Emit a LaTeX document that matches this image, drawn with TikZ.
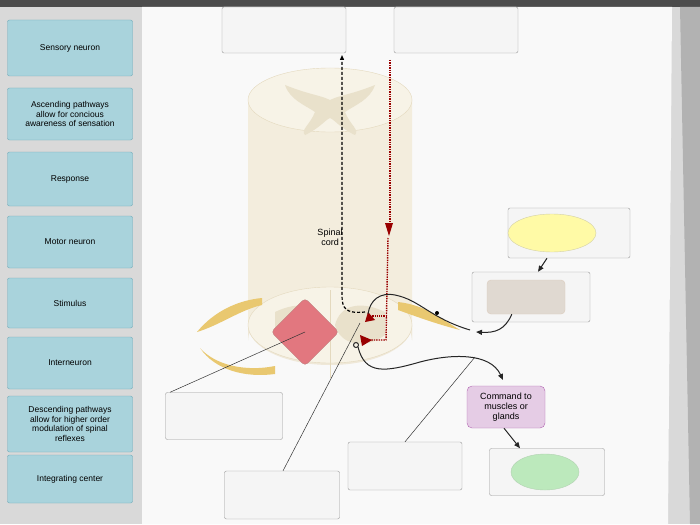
\documentclass[tikz,border=0pt]{standalone}
\usepackage{fontspec}
\setmainfont{Liberation Sans}
\usetikzlibrary{arrows.meta}
\definecolor{lbl}{HTML}{A9D3DC}
\definecolor{lbd}{HTML}{6FA9B8}
\definecolor{cream}{HTML}{F3EDDD}
\definecolor{creamd}{HTML}{E4D9BE}
\definecolor{nerve}{HTML}{E9C870}
\definecolor{dia}{HTML}{E2777F}
\begin{document}
\begin{tikzpicture}[x=1pt,y=-1pt,
  lab/.style={draw=lbd,fill=lbl,rounded corners=2pt,minimum width=125pt,align=center,font=\fontsize{8.5}{9.5}\selectfont,inner sep=1pt},
  ebox/.style={draw=gray!80,fill=gray!8,rounded corners=2pt,minimum width=#1,minimum height=46pt,inner sep=0pt},
  lead/.style={draw=black!80,line width=0.5pt},
  ar/.style={draw=black!85,line width=1pt,-{Triangle[length=6pt,width=5pt]}}]
\useasboundingbox (0,0) rectangle (700,524);
\fill[gray!30] (0,0) rectangle (700,524);
\fill[black!70] (0,0) rectangle (700,7);
\fill[gray!5] (142,7) -- (672,7) -- (668,524) -- (142,524) -- cycle;
\fill[gray!60] (680,7) -- (700,7) -- (700,524) -- (690,524) -- cycle;
% left labels
\node[lab,minimum height=56pt] (l1) at (70,48) {Sensory neuron};
\node[lab,minimum height=52pt] (l2) at (70,114) {Ascending pathways\\allow for concious\\awareness of sensation};
\node[lab,minimum height=54pt] (l3) at (70,179) {Response};
\node[lab,minimum height=52pt] (l4) at (70,242) {Motor neuron};
\node[lab,minimum height=50pt] (l5) at (70,303) {Stimulus};
\node[lab,minimum height=52pt] (l6) at (70,363) {Interneuron};
\node[lab,minimum height=56pt] (l7) at (70,424) {Descending pathways\\allow for higher order\\modulation of spinal\\reflexes};
\node[lab,minimum height=48pt] (l8) at (70,479) {Integrating center};
% spinal cord
\fill[cream] (248,100) -- (248,340) arc[start angle=180,end angle=360,x radius=82,y radius=40] -- (412,100) -- cycle;
\fill[creamd!60] (248,325) -- (248,340) arc[start angle=180,end angle=360,x radius=82,y radius=40] -- (412,325) arc[start angle=0,end angle=180,x radius=82,y radius=40];
\fill[cream!70!white,draw=creamd] (330,325) ellipse[x radius=82,y radius=38];
\fill[cream!70!white,draw=creamd] (330,100) ellipse[x radius=82,y radius=32];
\fill[creamd!80] (285,85) .. controls (310,95) and (320,95) .. (330,100) .. controls (340,95) and (350,95) .. (375,85) .. controls (370,100) and (355,105) .. (345,112) .. controls (350,125) and (360,130) .. (355,135) .. controls (340,128) and (335,120) .. (330,118) .. controls (325,120) and (320,128) .. (305,135) .. controls (300,130) and (310,125) .. (315,112) .. controls (305,105) and (290,100) .. (285,85);
\fill[creamd!80] (275,312) .. controls (300,300) and (320,305) .. (325,325) .. controls (320,345) and (295,350) .. (275,335) -- cycle;
\fill[creamd!80] (385,312) .. controls (360,300) and (340,305) .. (335,325) .. controls (340,345) and (365,350) .. (385,335) -- cycle;
\draw[creamd] (330,290) -- (330,378);
% nerves
\fill[nerve] (197,332) .. controls (215,310) and (240,300) .. (262,298) -- (262,305) .. controls (240,310) and (220,325) .. (197,332);
\fill[nerve] (200,348) .. controls (215,365) and (245,372) .. (275,366) -- (275,374) .. controls (245,378) and (215,370) .. (200,348);
\fill[nerve] (398,302) .. controls (425,305) and (440,318) .. (460,330) .. controls (440,325) and (420,318) .. (398,310);
\node[draw=red!50!black!50,fill=dia,rounded corners=4pt,minimum size=48pt,rotate=45] (dia) at (305,332) {};
\node[font=\fontsize{9}{10}\selectfont,align=center] (sc) at (330,237) {Spinal\\cord};
% pathways
\coordinate (t1) at (342,55);
\draw[densely dashed,line width=1.2pt,-{Triangle[length=5pt,width=4pt]}] (365,312) .. controls (345,314) and (342,308) .. (342,295) -- (t1);
\coordinate (r1) at (390,60);
\draw[red!60!black,densely dotted,line width=1.4pt] (r1) -- (390,225);
\draw[red!60!black,densely dotted,line width=1.4pt] (388,238) -- (386,340) -- (365,340);
\draw[red!60!black,densely dotted,line width=1.2pt] (368,316) -- (386,316);
\fill[red!60!black] (389,236) -- (385,223) -- (393,223) -- cycle;
\fill[red!60!black] (368,312) -- (375,320) -- (365,322) -- cycle;
\fill[red!60!black] (360,335) -- (372,340) -- (362,346) -- cycle;
\draw[black!85,line width=1pt] (368,314) .. controls (370,300) and (380,292) .. (395,295) .. controls (420,300) and (430,318) .. (470,330);
\fill (437,313) circle (2pt);
% right boxes
\node[ebox=124pt] (b1) at (284,30) {};
\node[ebox=124pt] (b2) at (456,30) {};
\node[ebox=122pt,minimum height=50pt] (b3) at (569,233) {};
\fill[yellow!35!white,draw=yellow!50!black!40] (552,233) ellipse[x radius=44,y radius=19];
\node[ebox=118pt,minimum height=50pt] (b4) at (531,297) {};
\node[fill=orange!20!gray!30!white,draw=orange!30!gray!40,rounded corners=4pt,minimum width=78pt,minimum height=34pt] (tan) at (526,297) {};
\node[ebox=117pt,minimum height=47pt] (b5) at (224,416) {};
\node[ebox=114pt,minimum height=48pt] (b6) at (405,466) {};
\node[ebox=115pt,minimum height=48pt] (b7) at (282,495) {};
\node[ebox=115pt,minimum height=47pt] (b8) at (547,472) {};
\fill[green!50!gray!35!white,draw=green!40!black!30] (545,472) ellipse[x radius=34,y radius=18];
\node[draw=violet!60,fill=violet!20!white,rounded corners=5pt,minimum width=78pt,minimum height=42pt,align=center,font=\fontsize{9}{10}\selectfont,inner sep=1pt] (cmd) at (506,407) {Command to\\muscles or\\glands};
\draw[ar] (b3.south) ++(-22,0) -- (b4.north -| 538,0);
\draw[ar] (b4.south west) ++(40,-8) .. controls (505,330) and (495,333) .. (476,332);
\draw[ar] (cmd.south) ++(-2,0) -- ++(16,20);
\draw[black!85,line width=1pt] (356,345) circle (2.5pt);
\draw[ar] (358,347) .. controls (365,375) and (385,372) .. (420,362) .. controls (450,354) and (490,352) .. (503,380);
% leaders
\draw[lead] (b5.north) ++(-54,0) -- (dia.center);
\draw[lead] (b7.north) ++(1,0) -- (360,323);
\draw[lead] (b6.north) ++(0,0) -- (475,357);
\end{tikzpicture}
\end{document}
